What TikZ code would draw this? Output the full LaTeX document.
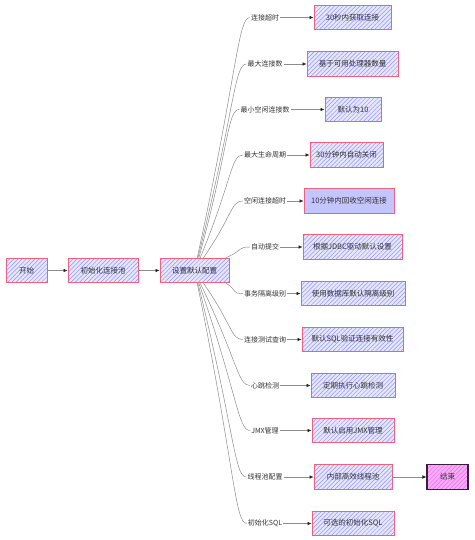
\documentclass[tikz,border=0pt]{standalone}
\usepackage{fontspec}
\setmainfont{Noto Sans CJK SC}
\usetikzlibrary{arrows.meta,calc,patterns.meta}
\definecolor{boxfill}{RGB}{230,230,255}
\definecolor{hatchblue}{RGB}{150,150,238}
\definecolor{boxline}{RGB}{236,98,128}
\definecolor{solidfill}{RGB}{196,196,255}
\definecolor{endfill}{RGB}{250,170,250}
\definecolor{endhatch}{RGB}{232,110,232}
\definecolor{endline}{RGB}{60,30,60}
\definecolor{edgegray}{RGB}{140,140,140}
\definecolor{txtgray}{RGB}{51,51,51}

\tikzset{
  cfgbox/.style={draw=boxline, line width=0.9pt, minimum height=24.5pt,
    inner sep=0pt, text=txtgray, font=\fontsize{7.5}{9}\selectfont,
    preaction={fill=boxfill},
    pattern={Lines[angle=45,distance=3pt,line width=0.5pt]},
    pattern color=hatchblue},
  solidbox/.style={draw=boxline, line width=0.9pt, minimum height=24.5pt,
    inner sep=0pt, text=txtgray, font=\fontsize{7.5}{9}\selectfont,
    fill=solidfill},
  endbox/.style={draw=endline, line width=1.2pt, minimum height=24.5pt,
    inner sep=0pt, text=txtgray, font=\fontsize{7.5}{9}\selectfont,
    preaction={fill=endfill},
    pattern={Lines[angle=45,distance=3pt,line width=0.5pt]},
    pattern color=endhatch},
  edgelabel/.style={fill=white, inner sep=1pt, text=txtgray,
    font=\fontsize{7}{8}\selectfont},
  flowline/.style={draw=edgegray, line width=0.5pt},
  arrowline/.style={flowline, -{Latex[length=4pt,width=3.6pt,color=black!85]}},
  fan/.style={to path={.. controls ($(\tikztostart)!0.75!(\tikztotarget)$)
    and ($(\tikztotarget)+(-12,0)$) .. (\tikztotarget)}}
}

\begin{document}
\begin{tikzpicture}[x=1pt, y=-1pt]
  \useasboundingbox (0,0) rectangle (474,540);

  % main chain
  \node[cfgbox, minimum width=41pt] (start) at (26.5,270.5) {开始};
  \node[cfgbox, minimum width=70pt] (initpool) at (103,270.5) {初始化连接池};
  \node[cfgbox, minimum width=69pt] (setdef) at (194.5,270.5) {设置默认配置};
  \draw[arrowline] (start) -- (initpool);
  \draw[arrowline] (initpool) -- (setdef);

  % config targets
  \node[cfgbox, minimum width=77pt] (conntimeout) at (352.5,17.5) {30秒内获取连接};
  \node[cfgbox, minimum width=91pt] (maxpool) at (352.5,64) {基于可用处理器数量};
  \node[cfgbox, minimum width=56pt] (minidle) at (353,109.5) {默认为10};
  \node[cfgbox, minimum width=73pt] (maxlife) at (346.5,155) {30分钟内自动关闭};
  \node[solidbox, minimum width=90pt] (idletimeout) at (349,201) {10分钟内回收空闲连接};
  \node[cfgbox, minimum width=99pt] (autocommit) at (352.5,247) {根据JDBC驱动默认设置};
  \node[cfgbox, minimum width=104pt] (isolation) at (353,293.5) {使用数据库默认隔离级别};
  \node[cfgbox, minimum width=101pt] (testquery) at (352.5,339.5) {默认SQL验证连接有效性};
  \node[cfgbox, minimum width=84pt] (heartbeat) at (353,385.5) {定期执行心跳检测};
  \node[cfgbox, minimum width=82pt] (jmx) at (353,430.5) {默认启用JMX管理};
  \node[cfgbox, minimum width=78pt] (threadpool) at (353,477) {内部高效线程池};
  \node[cfgbox, minimum width=82pt] (initsql) at (353,523.5) {可选的初始化SQL};
  \node[endbox, minimum width=41pt] (finish) at (447.5,477) {结束};

  % edge labels
  \node[edgelabel] (lconn) at (265,17.5) {连接超时};
  \node[edgelabel] (lmax) at (265,64) {最大连接数};
  \node[edgelabel] (lmin) at (265,109.5) {最小空闲连接数};
  \node[edgelabel] (llife) at (265,155) {最大生命周期};
  \node[edgelabel] (lidle) at (265,201) {空闲连接超时};
  \node[edgelabel] (lauto) at (265,247) {自动提交};
  \node[edgelabel] (liso) at (265,293.5) {事务隔离级别};
  \node[edgelabel] (ltest) at (265,339.5) {连接测试查询};
  \node[edgelabel] (lheart) at (265,385.5) {心跳检测};
  \node[edgelabel] (ljmx) at (265,430.5) {JMX管理};
  \node[edgelabel] (lthread) at (265,477) {线程池配置};
  \node[edgelabel] (lsql) at (265,523.5) {初始化SQL};

  % fan out of the default settings
  \draw[flowline] (setdef.78) to[fan] (lconn.west);
  \draw[flowline] (setdef.75) to[fan] (lmax.west);
  \draw[flowline] (setdef.71) to[fan] (lmin.west);
  \draw[flowline] (setdef.66) to[fan] (llife.west);
  \draw[flowline] (setdef.55) to[fan] (lidle.west);
  \draw[flowline] (setdef.22) to[fan] (lauto.west);
  \draw[flowline] (setdef.-22) to[fan] (liso.west);
  \draw[flowline] (setdef.-55) to[fan] (ltest.west);
  \draw[flowline] (setdef.-66) to[fan] (lheart.west);
  \draw[flowline] (setdef.-71) to[fan] (ljmx.west);
  \draw[flowline] (setdef.-75) to[fan] (lthread.west);
  \draw[flowline] (setdef.-78) to[fan] (lsql.west);

  \draw[arrowline] (lconn) -- (conntimeout);
  \draw[arrowline] (lmax) -- (maxpool);
  \draw[arrowline] (lmin) -- (minidle);
  \draw[arrowline] (llife) -- (maxlife);
  \draw[arrowline] (lidle) -- (idletimeout);
  \draw[arrowline] (lauto) -- (autocommit);
  \draw[arrowline] (liso) -- (isolation);
  \draw[arrowline] (ltest) -- (testquery);
  \draw[arrowline] (lheart) -- (heartbeat);
  \draw[arrowline] (ljmx) -- (jmx);
  \draw[arrowline] (lthread) -- (threadpool);
  \draw[arrowline] (lsql) -- (initsql);
  \draw[arrowline] (threadpool) -- (finish);
\end{tikzpicture}
\end{document}
